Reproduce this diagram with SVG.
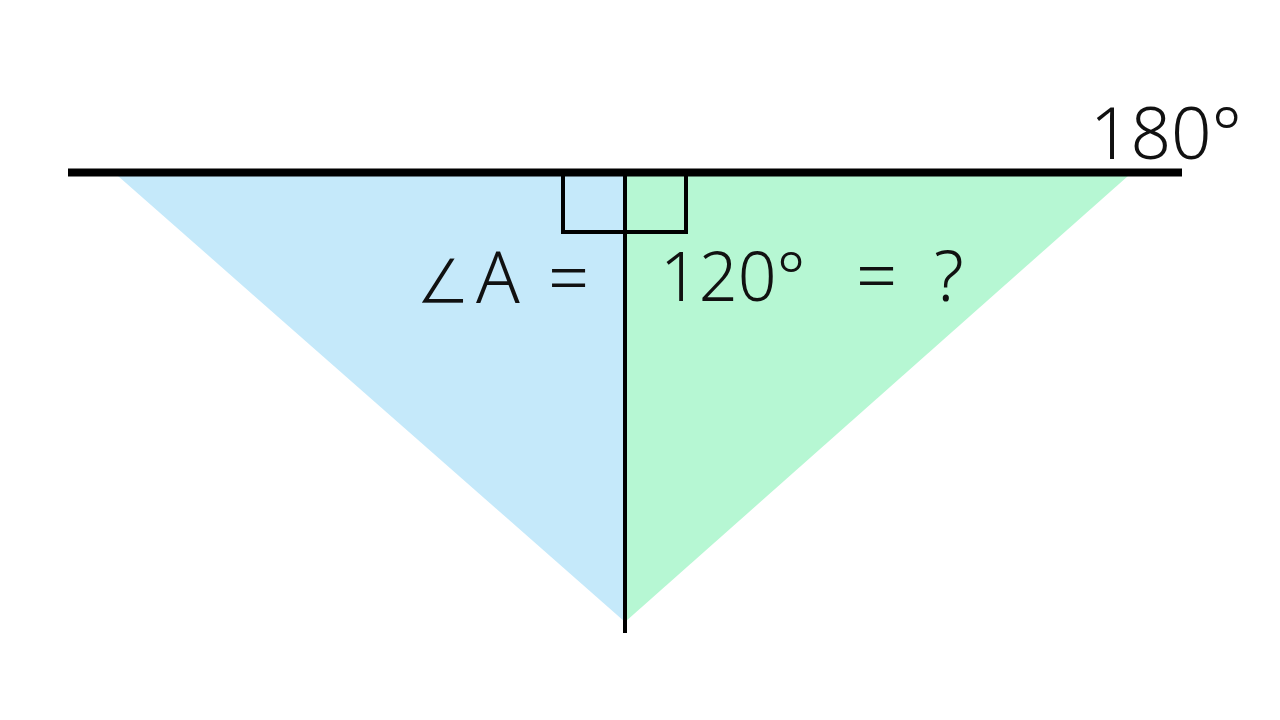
<svg xmlns="http://www.w3.org/2000/svg" width="1280" height="720" viewBox="0 0 1280 720">
<style>
.t{font-family:"Noto Sans","Liberation Sans",sans-serif;font-weight:300;fill:#111}
.ln{stroke:#000;fill:none}
</style>
<rect width="1280" height="720" fill="#ffffff"/>
<g id="blue-triangle"><polygon points="118,176 625,176 625,622" fill="#c5e9fa"/></g>
<g id="green-triangle"><polygon points="625,176 1128,176 625,622" fill="#b6f7d3"/></g>
<g id="connectors">
<line class="ln" x1="68" y1="172.5" x2="1182" y2="172.5" stroke-width="8"/>
<line class="ln" x1="625" y1="172" x2="625" y2="633" stroke-width="4"/>
<polyline class="ln" points="563,176 563,232 686,232 686,176" stroke-width="4"/>
</g>
<g id="labels">
<text x="414" y="304" font-size="64" font-family="DejaVu Sans, sans-serif" fill="#111" stroke="#c5e9fa" stroke-width="2.5">∠</text>
<text class="t" x="476" y="303" font-size="72">A</text>
<text class="t" x="548" y="303" font-size="72">=</text>
<text class="t" x="660" y="301" font-size="68">120°</text>
<text class="t" x="856" y="301" font-size="72">=</text>
<text class="t" x="934" y="301" font-size="70">?</text>
<text class="t" x="1090" y="159" font-size="71">180°</text>
</g>
</svg>
